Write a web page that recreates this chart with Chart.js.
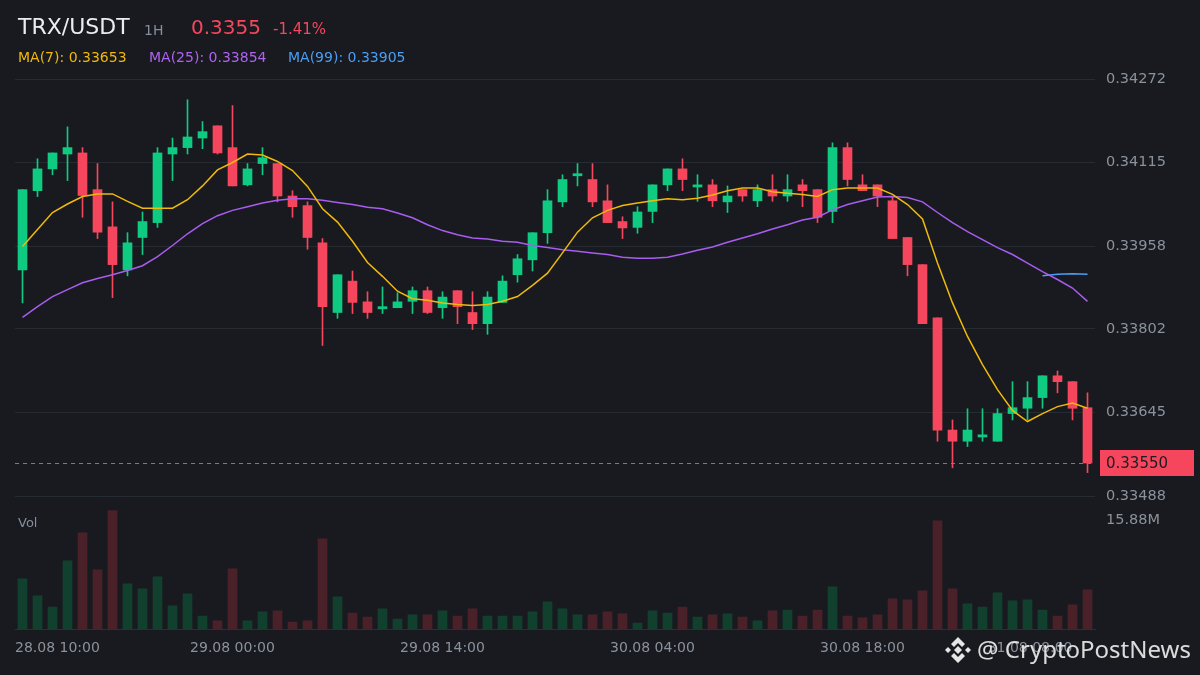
<!DOCTYPE html>
<html>
<head>
<meta charset="utf-8">
<title>TRX/USDT 1H</title>
<script src="https://cdn.jsdelivr.net/npm/chart.js@4.4.1/dist/chart.umd.min.js"></script>
<style>
  html, body { margin: 0; padding: 0; background: #181a1f; }
  #wrap { position: relative; width: 1200px; height: 675px; overflow: hidden; background: #181a1f; font-family: 'DejaVu Sans', sans-serif; }
  .t { position: absolute; white-space: nowrap; line-height: 1; }
  #priceBox { position: absolute; left: 0; top: 0; width: 1200px; height: 520px; }
  #volBox { position: absolute; left: 0; top: 485px; width: 1200px; height: 190px; }
  #mark { position: absolute; left: 944px; top: 636px; width: 28px; height: 28px; }
</style>
</head>
<body>
<div id="wrap">
  <div id="priceBox"><canvas id="priceChart"></canvas></div>
  <div id="volBox"><canvas id="volChart"></canvas></div>

  <div class="t" style="left:18px; top:16px; font-size:22px; color:#eaecef;">TRX/USDT</div>
  <div class="t" style="left:144px; top:23px; font-size:14px; color:#848e9c;">1H</div>
  <div class="t" style="left:191px; top:17px; font-size:20px; color:#f6465d;">0.3355</div>
  <div class="t" style="left:273px; top:22px; font-size:15px; color:#f6465d;">-1.41%</div>

  <div class="t" style="left:18px; top:50px; font-size:14px; color:#f0b90b;">MA(7): 0.33653</div>
  <div class="t" style="left:149px; top:50px; font-size:14px; color:#b062f2;">MA(25): 0.33854</div>
  <div class="t" style="left:288px; top:50px; font-size:14px; color:#4a9ef5;">MA(99): 0.33905</div>

  <div class="t" style="left:18px; top:516px; font-size:13px; color:#848e9c;">Vol</div>

  <svg id="mark" viewBox="0 0 28 28">
    <g fill="#e6e6e6">
      <polygon points="14,10 18,14 14,18 10,14"/>
      <polygon points="4,11 7,14 4,17 1,14"/>
      <polygon points="24,11 27,14 24,17 21,14"/>
      <polygon points="14,1 21,8 18,11 14,7 10,11 7,8"/>
      <polygon points="14,27 21,20 18,17 14,21 10,17 7,20"/>
    </g>
  </svg>
  <div class="t" style="left:977px; top:637px; font-size:24px; font-family:'Noto Sans', sans-serif; color:rgba(236,236,236,0.92);">@ CryptoPostNews</div>
</div>

<script>
// 1H candles, 28.08 10:00 -> 31.08 09:00
const opens = [0.33913,0.34062,0.34103,0.34131,0.34133,0.34064,0.33994,0.33913,0.33974,0.34002,
  0.34131,0.34143,0.34161,0.34184,0.34143,0.34073,0.34113,0.34113,0.34052,0.34034,
  0.33964,0.33833,0.33892,0.33853,0.33840,0.33842,0.33854,0.33874,0.33842,0.33874,
  0.33833,0.33812,0.33852,0.33904,0.33932,0.33983,0.34041,0.34090,0.34083,0.34043,
  0.34004,0.33993,0.34023,0.34073,0.34103,0.34069,0.34073,0.34041,0.34064,0.34043,
  0.34064,0.34052,0.34073,0.34064,0.34023,0.34143,0.34073,0.34073,0.34043,0.33974,
  0.33923,0.33823,0.33612,0.33591,0.33599,0.33591,0.33643,0.33653,0.33673,0.33714,
  0.33703,0.33654];
const highs = [0.34064,0.34122,0.34133,0.34182,0.34143,0.34113,0.34041,0.33983,0.34022,0.34143,
  0.34161,0.34233,0.34192,0.34184,0.34222,0.34113,0.34143,0.34113,0.34062,0.34041,
  0.33972,0.33904,0.33911,0.33872,0.33881,0.33870,0.33881,0.33881,0.33872,0.33874,
  0.33872,0.33872,0.33902,0.33942,0.33983,0.34064,0.34092,0.34113,0.34113,0.34073,
  0.34013,0.34032,0.34073,0.34103,0.34122,0.34092,0.34083,0.34071,0.34064,0.34073,
  0.34092,0.34092,0.34083,0.34064,0.34152,0.34152,0.34092,0.34073,0.34050,0.33974,
  0.33923,0.33823,0.33631,0.33652,0.33652,0.33652,0.33703,0.33703,0.33714,0.33723,
  0.33703,0.33682];
const lows = [0.33851,0.34051,0.34092,0.34081,0.34012,0.33972,0.33861,0.33902,0.33942,0.33993,
  0.34081,0.34131,0.34141,0.34131,0.34071,0.34071,0.34092,0.34041,0.34012,0.33952,
  0.33771,0.33822,0.33831,0.33822,0.33831,0.33842,0.33831,0.33831,0.33822,0.33812,
  0.33801,0.33792,0.33852,0.33890,0.33911,0.33963,0.34032,0.34071,0.34032,0.34002,
  0.33972,0.33982,0.34002,0.34062,0.34062,0.34042,0.34032,0.34021,0.34042,0.34032,
  0.34042,0.34042,0.34032,0.34002,0.34002,0.34071,0.34062,0.34032,0.33972,0.33902,
  0.33812,0.33591,0.33541,0.33581,0.33591,0.33591,0.33631,0.33631,0.33653,0.33682,
  0.33631,0.33532];
const closes = [0.34064,0.34103,0.34133,0.34143,0.34053,0.33984,0.33923,0.33964,0.34004,0.34133,
  0.34143,0.34163,0.34173,0.34133,0.34071,0.34103,0.34124,0.34052,0.34032,0.33974,
  0.33844,0.33904,0.33852,0.33833,0.33844,0.33853,0.33874,0.33833,0.33862,0.33844,
  0.33812,0.33862,0.33892,0.33934,0.33983,0.34043,0.34083,0.34094,0.34041,0.34002,
  0.33992,0.34022,0.34073,0.34103,0.34083,0.34073,0.34043,0.34052,0.34052,0.34064,
  0.34052,0.34064,0.34062,0.34012,0.34143,0.34083,0.34062,0.34052,0.33972,0.33923,
  0.33812,0.33612,0.33591,0.33612,0.33603,0.33643,0.33654,0.33673,0.33714,0.33703,
  0.33653,0.33550];

const ma7 = [0.33957,0.33989,0.34021,0.34037,0.34051,0.34056,0.34056,0.34042,0.34029,0.34029,
  0.34029,0.34045,0.34071,0.34101,0.34115,0.34131,0.34129,0.34117,0.34100,0.34070,
  0.34028,0.34003,0.33967,0.33927,0.33901,0.33873,0.33859,0.33856,0.33851,0.33848,
  0.33846,0.33848,0.33854,0.33863,0.33884,0.33907,0.33945,0.33984,0.34011,0.34025,
  0.34034,0.34039,0.34043,0.34047,0.34045,0.34048,0.34054,0.34062,0.34067,0.34067,
  0.34060,0.34057,0.34055,0.34051,0.34064,0.34067,0.34067,0.34067,0.34055,0.34036,
  0.34009,0.33926,0.33851,0.33788,0.33735,0.33688,0.33649,0.33628,0.33643,0.33656,
  0.33663,0.33653];
const ma25 = [0.33824,0.33844,0.33863,0.33876,0.33889,0.33897,0.33904,0.33912,0.33921,0.33938,
  0.33959,0.33981,0.34000,0.34015,0.34025,0.34032,0.34039,0.34044,0.34047,0.34047,
  0.34044,0.34040,0.34036,0.34031,0.34028,0.34020,0.34011,0.33998,0.33987,0.33979,
  0.33973,0.33971,0.33967,0.33965,0.33959,0.33955,0.33951,0.33948,0.33945,0.33942,
  0.33937,0.33935,0.33935,0.33937,0.33943,0.33950,0.33956,0.33965,0.33973,0.33981,
  0.33990,0.33998,0.34007,0.34012,0.34026,0.34036,0.34043,0.34050,0.34051,0.34049,
  0.34041,0.34021,0.34002,0.33985,0.33970,0.33955,0.33942,0.33926,0.33910,0.33895,
  0.33879,0.33854];
// MA(99) only shows on the last four candles
const ma99 = Array(68).fill(null).concat([0.33902, 0.33905, 0.33906, 0.33905]);

// volume in millions
const vols = [7.35,4.85,3.23,10.0,14.1,8.68,17.35,6.62,5.88,7.65,
  3.38,5.15,1.91,1.18,8.82,1.18,2.50,2.65,1.03,1.18,
  13.23,4.70,2.35,1.76,2.94,1.47,2.06,2.06,2.65,1.91,
  2.94,1.91,1.91,1.91,2.50,3.97,2.94,2.06,2.06,2.50,
  2.21,0.88,2.65,2.35,3.23,1.76,2.06,2.21,1.76,1.18,
  2.65,2.79,1.91,2.79,6.18,1.91,1.62,2.06,4.41,4.26,
  5.59,15.88,5.88,3.68,3.23,5.29,4.12,4.26,2.79,1.91,
  3.53,5.73];

const priceTicks = [0.34272, 0.34115, 0.33958, 0.33802, 0.33645, 0.33488];
const volTicks = [15.88];

// candle times, labelled every 14 hours
const times = [];
for (let i = 0; i < opens.length; i++) {
  const h = 10 + i;
  const day = 28 + Math.floor(h / 24);
  const hour = h % 24;
  times.push(day + '.08 ' + String(hour).padStart(2, '0') + ':00');
}

const UP = '#0ecb81';
const DOWN = '#f6465d';
const UP_VOL = '#11402f';
const DOWN_VOL = '#4a2029';
const GRID = '#262a31';
const TICK = '#8b929c';

Chart.defaults.font.family = "'DejaVu Sans', sans-serif";
Chart.defaults.animation = false;

const candleColors = opens.map((o, i) => closes[i] >= o ? UP : DOWN);
const volColors = opens.map((o, i) => closes[i] >= o ? UP_VOL : DOWN_VOL);
const bodies = opens.map((o, i) => [o, closes[i]]);
const wicks = lows.map((l, i) => [l, highs[i]]);
const lastPrice = closes[closes.length - 1];

// dashed line at the last price, and the red tag on the axis
const lastPricePlugin = {
  id: 'lastPrice',
  beforeDatasetsDraw(chart) {
    const { ctx, chartArea, scales } = chart;
    const y = Math.round(scales.y.getPixelForValue(lastPrice)) + 0.5;
    ctx.save();
    ctx.strokeStyle = DOWN;
    ctx.lineWidth = 1;
    ctx.setLineDash([4, 4]);
    ctx.beginPath();
    ctx.moveTo(chartArea.left, y);
    ctx.lineTo(chartArea.right, y);
    ctx.stroke();
    ctx.restore();
  },
  afterDraw(chart) {
    const { ctx, chartArea, scales } = chart;
    const y = Math.round(scales.y.getPixelForValue(lastPrice));
    ctx.save();
    ctx.fillStyle = DOWN;
    ctx.fillRect(chartArea.right + 5, y - 13, 94, 26);
    ctx.fillStyle = '#1b1d22';
    ctx.font = "15px 'DejaVu Sans'";
    ctx.textBaseline = 'middle';
    ctx.fillText(lastPrice.toFixed(5), chartArea.right + 11, y + 1);
    ctx.restore();
  }
};

new Chart(document.getElementById('priceChart'), {
  type: 'bar',
  data: {
    labels: times,
    datasets: [
      { type: 'line', label: 'MA(7)', data: ma7, borderColor: '#f0b90b', borderWidth: 1.5, pointRadius: 0, tension: 0, order: 0 },
      { type: 'line', label: 'MA(25)', data: ma25, borderColor: '#a85cf0', borderWidth: 1.5, pointRadius: 0, tension: 0, order: 0 },
      { type: 'line', label: 'MA(99)', data: ma99, borderColor: '#4a9ef5', borderWidth: 1.5, pointRadius: 0, tension: 0, order: 0 },
      { label: 'body', data: bodies, backgroundColor: candleColors, borderWidth: 0, barThickness: 9, grouped: false, order: 1 },
      { label: 'wick', data: wicks, backgroundColor: candleColors, borderWidth: 0, barThickness: 1, grouped: false, order: 2 }
    ]
  },
  options: {
    responsive: true,
    maintainAspectRatio: false,
    layout: { padding: { left: 15, right: 0, top: 79, bottom: 24 } },
    plugins: { legend: { display: false }, tooltip: { enabled: false } },
    scales: {
      x: { display: false, offset: true },
      y: {
        position: 'right',
        min: 0.33488,
        max: 0.34272,
        afterBuildTicks: s => { s.ticks = priceTicks.map(v => ({ value: v })); },
        afterFit: s => { s.width = 105; },
        grid: { color: GRID, drawTicks: false },
        border: { display: false },
        ticks: { color: TICK, padding: 11, font: { size: 14.5 }, callback: v => v.toFixed(5) }
      }
    }
  },
  plugins: [lastPricePlugin]
});

// the y label needs ~20px above the plot, so the volume canvas starts higher
new Chart(document.getElementById('volChart'), {
  type: 'bar',
  data: {
    labels: times,
    datasets: [
      { label: 'Vol', data: vols, backgroundColor: volColors, borderWidth: 0, barThickness: 9 }
    ]
  },
  options: {
    responsive: true,
    maintainAspectRatio: false,
    layout: { padding: { left: 15, right: 0, top: 0, bottom: 0 } },
    plugins: { legend: { display: false }, tooltip: { enabled: false } },
    scales: {
      x: {
        offset: true,
        grid: { display: false, drawTicks: false },
        border: { display: true, color: '#2b2f36' },
        // first label sits flush with the left edge, like the exchange chart
        afterBuildTicks: s => { if (s.ticks.length) s.ticks[0].value = -0.5; },
        afterFit: s => { s.height = 46; },
        ticks: {
          autoSkip: false, maxRotation: 0, minRotation: 0, align: 'inner',
          padding: 11, color: TICK, font: { size: 14 },
          callback: (v, i) => (i % 14 === 0 ? times[i] : null)
        }
      },
      y: {
        position: 'right',
        min: 0,
        max: 18.23,
        afterBuildTicks: s => { s.ticks = volTicks.map(v => ({ value: v })); },
        afterFit: s => { s.width = 105; },
        grid: { display: false, drawTicks: false },
        border: { display: false },
        ticks: { color: TICK, padding: 11, font: { size: 14.5 }, callback: v => v.toFixed(2) + 'M' }
      }
    }
  }
});
</script>
</body>
</html>
